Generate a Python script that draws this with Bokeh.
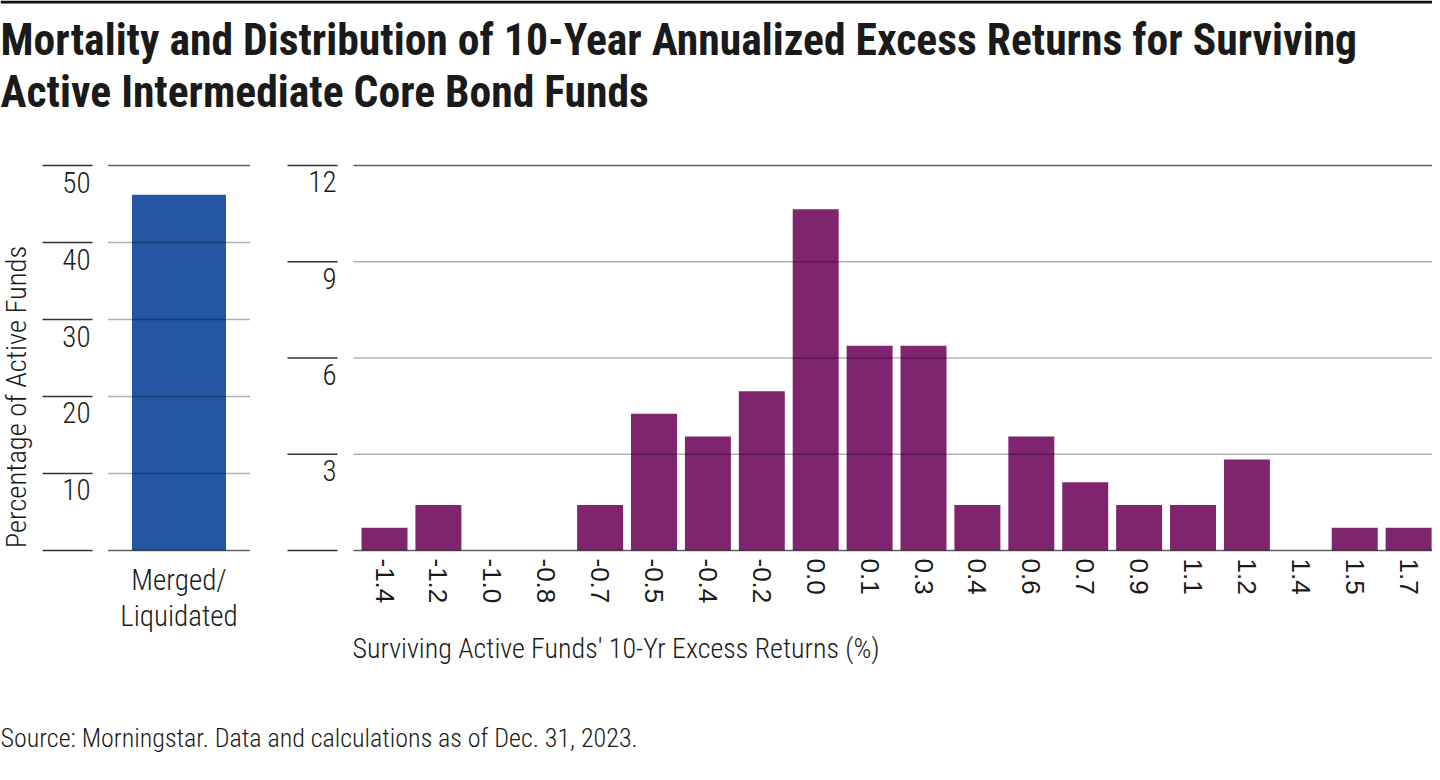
import math
from bokeh.plotting import figure
from bokeh.models import Range1d, FixedTicker, Title, Span
from bokeh.layouts import column, row
from bokeh.embed import file_html
from bokeh.resources import INLINE
from bokeh.core.properties import value

# ---------------- data ----------------
title_lines = [
    "Mortality and Distribution of 10-Year Annualized Excess Returns for Surviving",
    "Active Intermediate Core Bond Funds",
]
source_note = "Source: Morningstar. Data and calculations as of Dec. 31, 2023."

left_categories = ["Merged/\nLiquidated"]
left_values = [46.2]
left_ticks = [0, 10, 20, 30, 40, 50]
left_ylabel = "Percentage of Active Funds"

right_categories = ["-1.4", "-1.2", "-1.0", "-0.8", "-0.7", "-0.5", "-0.4", "-0.2",
                    "0.0", "0.1", "0.3", "0.4", "0.6", "0.7", "0.9", "1.1", "1.2",
                    "1.4", "1.5", "1.7"]
right_values = [0.71, 1.42, 0.0, 0.0, 1.42, 4.26, 3.55, 4.96, 10.64, 6.38, 6.38,
                1.42, 3.55, 2.13, 1.42, 1.42, 2.84, 0.0, 0.71, 0.71]
right_ticks = [0, 3, 6, 9, 12]
right_xlabel = "Surviving Active Funds' 10-Yr Excess Returns (%)"

# ---------------- style ----------------
LIGHT = "'Roboto Condensed Light', 'Roboto Condensed', sans-serif"
BOLD = "Roboto Condensed"
TXT = "#1a1a1a"
BLUE = "#2456a3"
PURPLE = "#7f256f"


def grid_styles(ticks):
    cols, alphas = [], []
    for i, _ in enumerate(ticks):
        cols.append("#000000")
        alphas.append(0.62 if i in (0, len(ticks) - 1) else 0.30)
    return cols, alphas


def base_fig(width, height, xr, yr, **kw):
    p = figure(width=width, height=height, output_backend="svg", toolbar_location=None,
               x_range=xr, y_range=yr, y_axis_location=None, **kw)
    p.grid.visible = False
    p.outline_line_color = None
    p.background_fill_color = "white"
    p.border_fill_color = "white"
    return p


# ---------------- header ----------------
ph = figure(width=1432, height=150, output_backend="svg", toolbar_location=None,
            x_range=Range1d(0, 1432), y_range=Range1d(0, 150),
            x_axis_location=None, y_axis_location=None, min_border=0)
ph.grid.visible = False
ph.outline_line_color = None
ph.text(x=[0, 0], y=[110.5, 58.5], text=title_lines, text_font=value(BOLD),
        text_font_style="bold", text_font_size="43.6px", text_color=TXT,
        text_baseline="alphabetic", text_align="left")
ph.add_layout(Span(location=148.5, dimension="width", line_color="#111111", line_width=3))

# ---------------- left panel ----------------
pl = base_fig(280, 540, Range1d(-1.257, 0.715), Range1d(-0.26, 50.26),
              min_border_left=0, min_border_right=0, min_border_top=13, min_border_bottom=138)
xl = list(range(len(left_categories)))
pl.vbar(x=xl, top=left_values, width=0.662, fill_color=BLUE, line_color=None)
gc, ga = grid_styles(left_ticks)
pl.segment(x0=[-0.5] * len(left_ticks), x1=[0.5] * len(left_ticks), y0=left_ticks, y1=left_ticks,
           line_color=gc, line_alpha=ga, line_width=1.6)
pl.segment(x0=[-0.961] * len(left_ticks), x1=[-0.609] * len(left_ticks), y0=left_ticks, y1=left_ticks,
           line_color="#333333", line_width=1.6)
pl.text(x=[-0.623] * (len(left_ticks) - 1), y=left_ticks[1:], text=[str(t) for t in left_ticks[1:]],
        text_align="right", text_baseline="top", y_offset=6, text_font=value(LIGHT),
        text_font_size="29px", text_color=TXT)
pl.text(x=[-1.262], y=[0.3], text=[left_ylabel], angle=math.pi / 2, text_align="left",
        text_baseline="top", text_font=value(LIGHT), text_font_size="28.5px", text_color=TXT)
pl.xaxis.ticker = FixedTicker(ticks=xl)
pl.xaxis.major_label_overrides = {x: c for x, c in zip(xl, left_categories)}
pl.xaxis.axis_line_color = None
pl.xaxis.major_tick_line_color = None
pl.xaxis.minor_tick_line_color = None
pl.xaxis.major_label_standoff = 4
pl.xaxis.major_label_text_font = LIGHT
pl.xaxis.major_label_text_font_size = "29px"
pl.xaxis.major_label_text_line_height = 1.08
pl.xaxis.major_label_text_color = TXT

# ---------------- right panel ----------------
pr = base_fig(1152, 540, Range1d(-1.9295, 19.443), Range1d(-0.0623, 12.0623),
              min_border_left=0, min_border_right=0, min_border_top=13, min_border_bottom=138)
xr = list(range(len(right_categories)))
pr.vbar(x=xr, top=right_values, width=0.853, fill_color=PURPLE, line_color=None)
gc, ga = grid_styles(right_ticks)
pr.segment(x0=[-0.575] * len(right_ticks), x1=[19.45] * len(right_ticks), y0=right_ticks, y1=right_ticks,
           line_color=gc, line_alpha=ga, line_width=1.6)
pr.segment(x0=[-1.80] * len(right_ticks), x1=[-0.872] * len(right_ticks), y0=right_ticks, y1=right_ticks,
           line_color="#333333", line_width=1.6)
pr.text(x=[-0.89] * (len(right_ticks) - 1), y=right_ticks[1:], text=[str(t) for t in right_ticks[1:]],
        text_align="right", text_baseline="top", y_offset=6, text_font=value(LIGHT),
        text_font_size="29px", text_color=TXT)
pr.xaxis.ticker = FixedTicker(ticks=xr)
pr.xaxis.major_label_overrides = {x: c for x, c in zip(xr, right_categories)}
pr.xaxis.major_label_orientation = "vertical"
pr.xaxis.axis_line_color = None
pr.xaxis.major_tick_line_color = None
pr.xaxis.minor_tick_line_color = None
pr.xaxis.major_label_standoff = 0
pr.xaxis.major_label_text_font = "Liberation Sans"
pr.xaxis.major_label_text_font_size = "26px"
pr.xaxis.major_label_text_color = TXT
pr.add_layout(Title(text=right_xlabel, align="left", offset=72, text_font=LIGHT,
                    text_font_size="28px", text_font_style="normal", text_color=TXT,
                    standoff=46), "below")

# ---------------- footer ----------------
pf = figure(width=1432, height=74, output_backend="svg", toolbar_location=None,
            x_range=Range1d(0, 1432), y_range=Range1d(0, 74),
            x_axis_location=None, y_axis_location=None, min_border=0)
pf.grid.visible = False
pf.outline_line_color = None
pf.text(x=[0], y=[26.5], text=[source_note], text_font=value(LIGHT), text_font_size="26px",
        text_color=TXT, text_baseline="alphabetic", text_align="left")

layout = column(ph, row(pl, pr), pf)
open("out.html", "w").write(file_html(layout, INLINE))
